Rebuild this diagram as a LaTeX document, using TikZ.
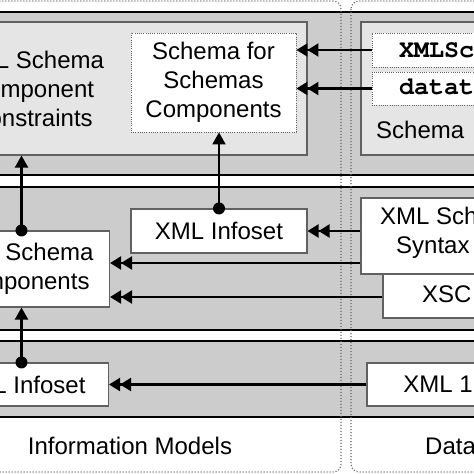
\documentclass[tikz,border=0pt]{standalone}
\usepackage[T1]{fontenc}
\usepackage{fontspec}
\setmainfont{Liberation Sans}
\usetikzlibrary{arrows.meta}
\definecolor{bandgray}{gray}{0.80}
\definecolor{innergray}{gray}{0.90}
\definecolor{edgegray}{gray}{0.38}
\newcommand{\cour}{\fontencoding{T1}\fontfamily{pcr}\fontseries{b}\fontsize{25pt}{30pt}\selectfont}
\tikzset{
  lbl/.style={font=\fontsize{24pt}{29pt}\selectfont, align=center, inner sep=0pt},
  band/.style={fill=bandgray, draw=black, line width=1.8pt},
  innerbox/.style={lbl, fill=innergray, draw=edgegray, line width=1.1pt},
  whitebox/.style={lbl, fill=white, draw=edgegray, line width=1.1pt},
  dotbox/.style={lbl, fill=white, draw=edgegray, line width=0.9pt, dash pattern=on 0.9pt off 1.3pt},
  region/.style={draw=edgegray, line width=1.1pt, dash pattern=on 1.1pt off 1.9pt, rounded corners=8pt},
  conn/.style={line width=2.1pt},
  onehead/.style={-{Triangle[length=12pt,width=13pt]}},
  twohead/.style={-{Triangle[length=11pt,width=13pt]Triangle[length=11pt,width=13pt]}},
  blob/.style={circle, fill=black, inner sep=0pt, minimum size=12pt},
  mono/.style={font=\cour, inner sep=0pt, anchor=west},
}
\begin{document}
\begin{tikzpicture}[x=1pt,y=-1pt]
\useasboundingbox (0,0) rectangle (474,474);
\clip (0,0) rectangle (474,474);
% bands
\draw[band] (-50,12) rectangle (530,175);
\draw[band] (-50,187) rectangle (530,330);
\draw[band] (-50,341) rectangle (530,417);
% regions
\draw[region] (-300,1) rectangle (341,472);
\draw[region] (351,1) rectangle (800,472);
% band 1
\node[innerbox, minimum width=550pt, minimum height=133pt] (constraints) at (32,88.5) {XML Schema\\Component\\Constraints};
\node[dotbox, minimum width=165pt, minimum height=99pt] (schemas) at (213.5,82.5) {Schema for\\Schemas\\Components};
\node[innerbox, minimum width=439pt, minimum height=133pt] (schemadocs) at (580.5,88.5) {};
\node[lbl, anchor=west] (schematext) at (376,130) {Schema};
\node[dotbox, minimum width=428pt, minimum height=34pt] (xmlsbox) at (586,50) {};
\node[mono] (xmlstext) at (399,50) {XMLSchema};
\node[dotbox, minimum width=428pt, minimum height=33pt] (dtbox) at (586,88.5) {};
\node[mono] (dttext) at (399,88.5) {datatypes};
% band 2
\node[whitebox, minimum width=176pt, minimum height=76pt] (xsc) at (21.5,269) {XML Schema\\Components};
\node[whitebox, minimum width=176pt, minimum height=44pt] (infoset2) at (219,231) {XML Infoset};
\node[whitebox, minimum width=417pt, minimum height=63pt] (xscbox) at (591.5,286.5) {};
\node[lbl, anchor=west] (xsctext) at (422,294) {XSC};
\node[whitebox, minimum width=439pt, minimum height=76pt] (syntax) at (580.5,236) {};
\node[lbl, anchor=north west, align=left] (syntaxtext) at (380,207) {XML Schema\\\hspace*{16pt}Syntax};
% band 3
\node[whitebox, minimum width=174pt, minimum height=43pt] (infoset3) at (21.5,384.5) {XML Infoset};
\node[whitebox, minimum width=162pt, minimum height=43pt] (xml10) at (448,384.5) {XML 1.0};
% horizontal connectors
\draw[conn,twohead] (xmlsbox.west) -- (schemas.east |- xmlsbox.west);
\draw[conn,twohead] (dtbox.west) -- (schemas.east |- dtbox.west);
\draw[conn,twohead] (syntax.west |- infoset2.east) -- (infoset2.east);
\draw[conn,twohead] (syntax.west |- 0,263) -- (xsc.east |- 0,263);
\draw[conn,twohead] (xscbox.west |- 0,297) -- (xsc.east |- 0,297);
\draw[conn,twohead] (xml10.west) -- (infoset3.east);
% vertical connectors
\node[blob] (d1) at (infoset3.north) {};
\node[blob] (d2) at (xsc.north) {};
\node[blob] (d3) at (infoset2.north) {};
\draw[conn,onehead] (d1.center) -- (xsc.south);
\draw[conn,onehead] (d2.center) -- (constraints.south -| d2);
\draw[conn,onehead] (d3.center) -- (schemas.south -| d3);
% labels
\node[lbl] (infomodels) at (130,446) {Information Models};
\node[lbl, anchor=west] (datalbl) at (425,446) {Data};
\end{tikzpicture}
\end{document}
